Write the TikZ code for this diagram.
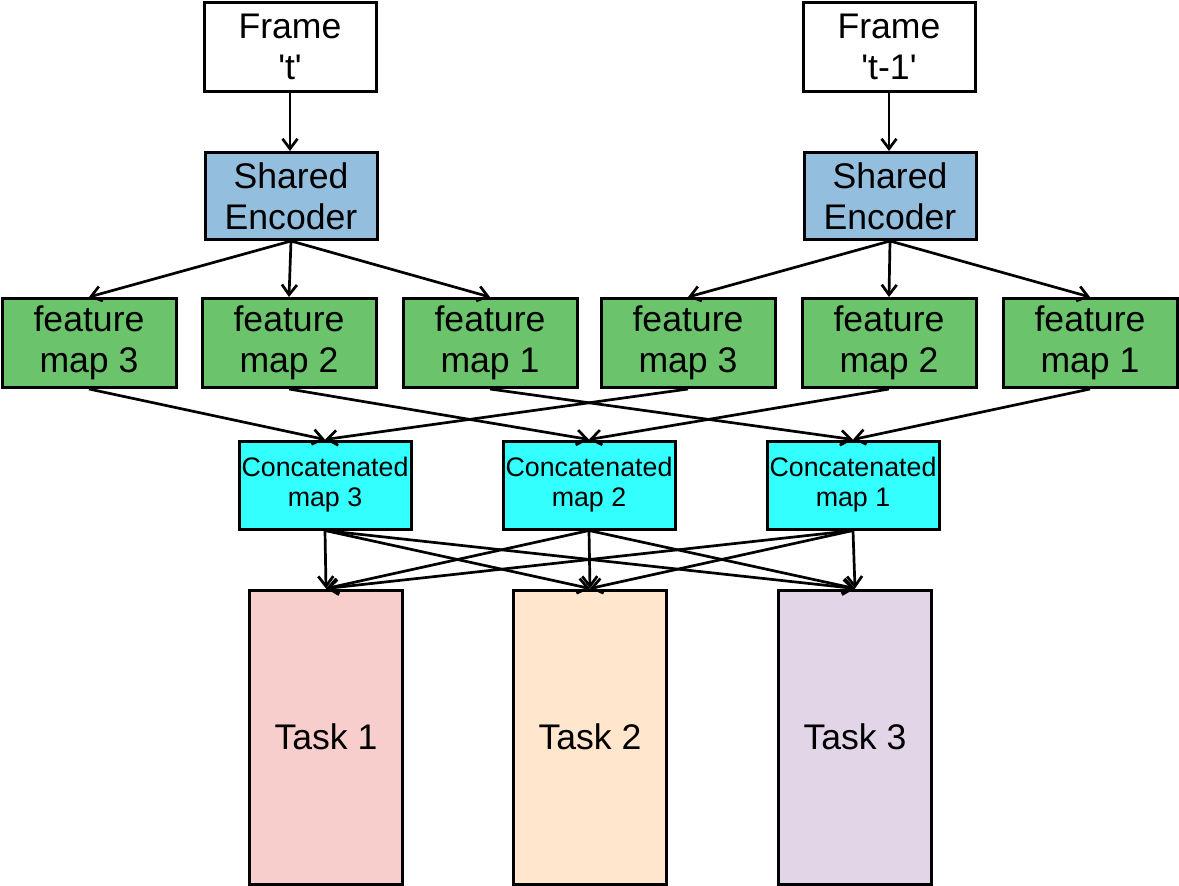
\documentclass[tikz,border=0pt]{standalone}
\usepackage{fontspec}
\setmainfont{Liberation Sans}
\usetikzlibrary{arrows.meta}
\definecolor{encblue}{HTML}{94BEDD}
\definecolor{fmgreen}{HTML}{6BC36B}
\definecolor{catcyan}{HTML}{33FFFF}
\definecolor{taskred}{HTML}{F8CECC}
\definecolor{taskorange}{HTML}{FFE6CC}
\definecolor{taskpurple}{HTML}{E1D5E7}
\tikzset{
  box/.style={draw=black, line width=1.5pt, inner sep=0pt, align=center,
    font=\fontsize{17.8}{20.5}\selectfont},
  framebox/.style={box, fill=white, minimum width=86pt, minimum height=44.5pt},
  encbox/.style={box, fill=encblue, minimum width=86pt, minimum height=43.5pt},
  fmbox/.style={box, fill=fmgreen, minimum width=87pt, minimum height=44.5pt},
  catbox/.style={box, fill=catcyan, minimum width=86pt, minimum height=44pt,
    font=\fontsize{13.4}{15}\selectfont},
  taskbox/.style={box, minimum width=76.5pt, minimum height=147pt},
  conn/.style={draw=black, line width=1.35pt, -{Straight Barb[length=5pt,width=7.5pt,line width=1.35pt]}}
}
\begin{document}
\begin{tikzpicture}[x=0.5pt,y=-0.5pt]
\useasboundingbox (0,0) rectangle (1179,885);
% frames
\node[framebox] (ft) at (290,46.5) {Frame\\\textquotesingle t\textquotesingle};
\node[framebox] (ft1) at (889,46.5) {Frame\\\textquotesingle t-1\textquotesingle};
% encoders
\node[encbox] (encL) at (291,196) {Shared\\Encoder};
\node[encbox] (encR) at (890,196) {Shared\\Encoder};
% feature maps
\node[fmbox] (fmL3) at (89,343) {feature\\map 3};
\node[fmbox] (fmL2) at (289,343) {feature\\map 2};
\node[fmbox] (fmL1) at (490,343) {feature\\map 1};
\node[fmbox] (fmR3) at (688,343) {feature\\map 3};
\node[fmbox] (fmR2) at (889,343) {feature\\map 2};
\node[fmbox] (fmR1) at (1090,343) {feature\\map 1};
% concatenated maps
\node[catbox] (c3) at (325,485) {Concatenated\\map 3};
\node[catbox] (c2) at (589,485) {Concatenated\\map 2};
\node[catbox] (c1) at (853,485) {Concatenated\\map 1};
% tasks
\node[taskbox, fill=taskred] (t1) at (326,737) {Task 1};
\node[taskbox, fill=taskorange] (t2) at (590,737) {Task 2};
\node[taskbox, fill=taskpurple] (t3) at (855,737) {Task 3};
% connectors
\draw[conn] (ft.south) -- (encL.north -| ft.south);
\draw[conn] (ft1.south) -- (encR.north -| ft1.south);
\draw[conn] (encL.south) -- (fmL3.north);
\draw[conn] (encL.south) -- (fmL2.north);
\draw[conn] (encL.south) -- (fmL1.north);
\draw[conn] (encR.south) -- (fmR3.north);
\draw[conn] (encR.south) -- (fmR2.north);
\draw[conn] (encR.south) -- (fmR1.north);
\draw[conn] (fmL3.south) -- (c3.north);
\draw[conn] (fmL2.south) -- (c2.north);
\draw[conn] (fmL1.south) -- (c1.north);
\draw[conn] (fmR3.south) -- (c3.north);
\draw[conn] (fmR2.south) -- (c2.north);
\draw[conn] (fmR1.south) -- (c1.north);
\foreach \c in {c1,c2,c3}{
  \foreach \t in {t1,t2,t3}{
    \draw[conn] (\c.south) -- (\t.north);
  }
}
\end{tikzpicture}
\end{document}
